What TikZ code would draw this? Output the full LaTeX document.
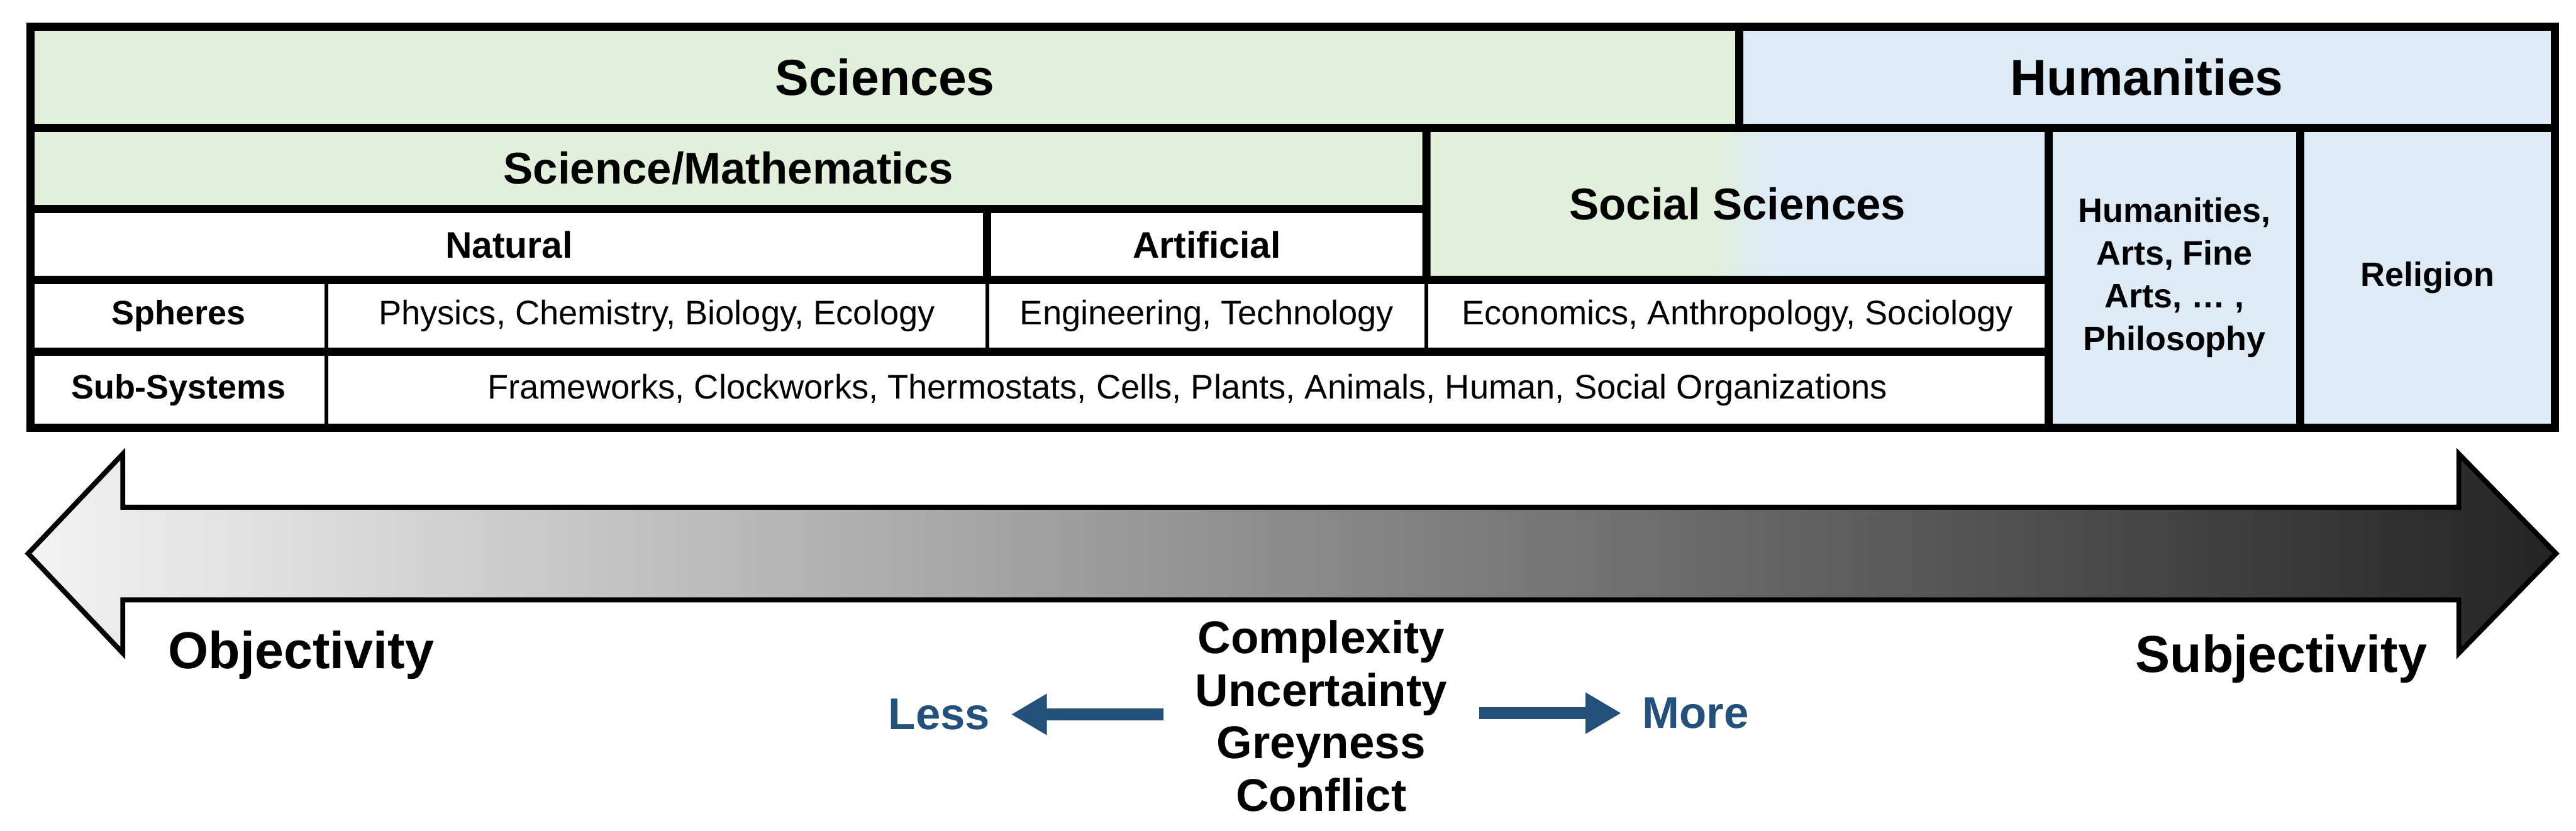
\documentclass[tikz,border=0pt]{standalone}
\usepackage{fontspec}
\setmainfont{Liberation Sans}
\usepackage{xcolor}
\usetikzlibrary{arrows.meta,positioning}
\definecolor{scigreen}{RGB}{226,239,218}
\definecolor{humblue}{RGB}{221,235,247}
\definecolor{lmblue}{RGB}{36,80,124}
\definecolor{arrlight}{RGB}{243,243,243}
\definecolor{arrdark}{RGB}{36,36,36}
\pgfdeclarehorizontalshading{socshade}{100bp}{color(0bp)=(scigreen); color(47.8bp)=(scigreen); color(52.6bp)=(humblue); color(100bp)=(humblue)}

\begin{document}
\begin{tikzpicture}[>=Stealth,
 cell/.style={draw,line width=1.6pt,inner sep=0pt,outer sep=0pt,align=center},
 scicell/.style={cell,fill=scigreen},
 humcell/.style={cell,fill=humblue},
 whitecell/.style={cell,fill=white},
 rule/.style={line width=3.7pt},
 headtxt/.style={font=\bfseries\fontsize{23}{27}\selectfont},
 subtxt/.style={font=\bfseries\fontsize{20.2}{24}\selectfont},
 kindtxt/.style={font=\bfseries\fontsize{16.8}{20}\selectfont},
 rowtxt/.style={font=\bfseries\fontsize{15.4}{19.4}\selectfont},
 bodytxt/.style={font=\fontsize{15.5}{19}\selectfont},
 pole/.style={font=\bfseries\fontsize{23.6}{28}\selectfont,inner sep=0pt},
 bigarrow/.style={draw=black,line width=0.08cm,line join=miter,left color=arrlight,right color=arrdark},
 lessmore/.style={font=\bfseries\fontsize{20.2}{24}\selectfont,text=lmblue,inner xsep=0.33cm,inner ysep=0pt},
 bluearrow/.style={draw=lmblue,line width=0.2cm,-{Triangle[length=0.57cm,width=0.62cm]}}]
\useasboundingbox (0,0) rectangle (41.12,-13.27);

% table cells
\node[scicell,headtxt,minimum width=27.27cm,minimum height=1.61cm] (sci) at (14.125,-1.235) {Sciences};
\node[humcell,headtxt,minimum width=13.02cm,minimum height=1.61cm] (hum) at (34.27,-1.235) {Humanities};
\node[scicell,subtxt,minimum width=22.28cm,minimum height=1.30cm] (scimath) at (11.63,-2.69) {Science/Mathematics};
\node[whitecell,kindtxt,minimum width=15.27cm,minimum height=1.13cm] (nat) at (8.125,-3.905) {Natural};
\node[whitecell,kindtxt,minimum width=7.01cm,minimum height=1.13cm] (artif) at (19.265,-3.905) {Artificial};
\node[cell,shading=socshade,subtxt,minimum width=9.93cm,minimum height=2.43cm] (socsci) at (27.735,-3.255) {Social Sciences};
\node[humcell,rowtxt,minimum width=4.02cm,minimum height=4.79cm] (humarts) at (34.71,-4.435) {Humanities,\\Arts, Fine\\Arts, … ,\\Philosophy};
\node[humcell,rowtxt,minimum width=4.06cm,minimum height=4.79cm] (relig) at (38.75,-4.435) {Religion};
\node[whitecell,rowtxt,minimum width=4.72cm,minimum height=1.15cm] (spheres) at (2.85,-5.045) {Spheres};
\node[whitecell,bodytxt,minimum width=10.55cm,minimum height=1.15cm] (phys) at (10.485,-5.045) {Physics, Chemistry, Biology, Ecology};
\node[whitecell,bodytxt,minimum width=7.01cm,minimum height=1.15cm] (eng) at (19.265,-5.045) {Engineering, Technology};
\node[whitecell,bodytxt,minimum width=9.93cm,minimum height=1.15cm] (econ) at (27.735,-5.045) {Economics, Anthropology, Sociology};
\node[whitecell,rowtxt,minimum width=4.72cm,minimum height=1.21cm] (subsys) at (2.85,-6.225) {Sub-Systems};
\node[whitecell,bodytxt,minimum width=27.49cm,minimum height=1.21cm] (subsysall) at (18.955,-6.225) {Frameworks, Clockworks, Thermostats, Cells, Plants, Animals, Human, Social Organizations};

% heavy rules
\draw[rule] (sci.north west) rectangle (relig.south east);
\draw[rule] (sci.south west) -- (hum.south east);
\draw[rule] (sci.north east) -- (sci.south east);
\draw[rule] (scimath.south west) -- (scimath.south east);
\draw[rule] (scimath.north east) -- (artif.south east);
\draw[rule] (nat.north east) -- (nat.south east);
\draw[rule] (nat.south west) -- (socsci.south east);
\draw[rule] (spheres.south west) -- (econ.south east);
\draw[rule] (humarts.north west) -- (humarts.south west);
\draw[rule] (relig.north west) -- (relig.south west);

% objectivity / subjectivity scale
\draw[bigarrow] (0.45,-8.84) -- (1.96,-7.25) -- (1.96,-8.10) -- (39.25,-8.10) -- (39.25,-7.25)
 -- (40.80,-8.84) -- (39.25,-10.43) -- (39.25,-9.58) -- (1.96,-9.58) -- (1.96,-10.43) -- cycle;
\node[pole,anchor=base west] (obj) at (2.68,-10.68) {Objectivity};
\node[pole,anchor=base east] (subj) at (38.75,-10.74) {Subjectivity};

\node[font=\bfseries\fontsize{20.8}{23.9}\selectfont,align=center,inner xsep=0.5cm,inner ysep=0pt,anchor=north] (crit) at (21.09,-9.90) {Complexity\\Uncertainty\\Greyness\\Conflict};
\node[lessmore,anchor=base east] (less) at (16.14,-11.65) {Less};
\node[lessmore,anchor=base west] (more) at (25.88,-11.63) {More};
\draw[bluearrow] (crit.west |- less.east) -- (less.east);
\draw[bluearrow] (crit.east |- more.west) -- (more.west);
\end{tikzpicture}
\end{document}
